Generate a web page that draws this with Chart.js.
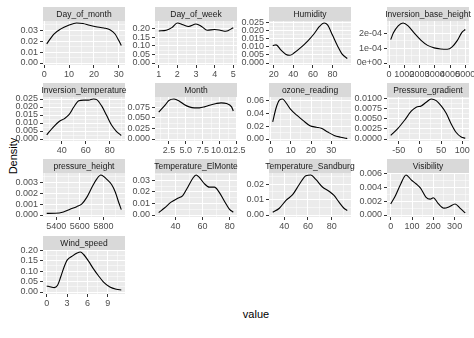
<!DOCTYPE html>
<html>
<head>
<meta charset="utf-8">
<script src="https://cdn.jsdelivr.net/npm/chart.js@4"></script>
<style>
  body { margin: 0; background: #fff; width: 474px; height: 338px; position: relative; overflow: hidden;
         font-family: "Liberation Sans", Arial, sans-serif; }
  canvas { position: absolute; }
  .axtitle { position: absolute; font-size: 11px; color: #000; white-space: nowrap; }
  #ylab { left: 13px; top: 156px; transform: translate(-50%, -50%) rotate(-90deg); }
  #xlab { left: 256px; top: 314px; transform: translate(-50%, -50%); }
</style>
</head>
<body>
<div class="axtitle" id="ylab">Density</div>
<div class="axtitle" id="xlab">value</div>
<script>
// ---- densities (x = value, y = density) ----
const dayOfMonthX = [1, 3.9, 6.5, 9.8, 13, 15.6, 18.2, 20.8, 24, 26.6, 28.5, 30, 31];
const dayOfMonthY = [0.0175, 0.0265, 0.031, 0.0345, 0.0366, 0.0362, 0.0345, 0.0332, 0.032, 0.0302, 0.0265, 0.0205, 0.016];

const dayOfWeekX = [1, 1.4, 1.7, 2, 2.3, 2.6, 3, 3.3, 3.6, 4, 4.3, 4.6, 5];
const dayOfWeekY = [0.186, 0.19, 0.205, 0.232, 0.222, 0.212, 0.226, 0.212, 0.19, 0.194, 0.19, 0.184, 0.205];

const humidityX = [19, 22.4, 27.5, 32.6, 36.6, 41, 47.8, 54.6, 61.4, 66.4, 71.5, 74.9, 80, 85, 90, 95];
const humidityY = [0.0107, 0.0112, 0.0079, 0.0053, 0.0048, 0.0063, 0.0096, 0.0135, 0.0182, 0.0224, 0.0247, 0.0235, 0.0171, 0.0107, 0.0053, 0.0028];

const invBaseX = [111, 280, 600, 920, 1250, 1670, 2100, 2530, 2960, 3390, 3820, 4140, 4460, 4780, 5000];
const invBaseY = [1.58e-4, 2.02e-4, 2.51e-4, 2.70e-4, 2.51e-4, 2.0e-4, 1.53e-4, 1.19e-4, 1.02e-4, 0.95e-4, 0.93e-4, 1.09e-4, 1.49e-4, 2.07e-4, 2.26e-4];

const invTempX = [27.6, 32.5, 37.9, 42, 46.1, 50.1, 54.2, 58.3, 62.3, 66.4, 69.1, 73.2, 77.3, 81.4, 85.4, 89.5];
const invTempY = [0.0026, 0.007, 0.0109, 0.0126, 0.0152, 0.02, 0.0239, 0.0243, 0.0243, 0.025, 0.0246, 0.0207, 0.0148, 0.0087, 0.0048, 0.0022];

const monthX = [1, 2, 2.5, 3.25, 4, 4.75, 5.5, 6.25, 7, 7.75, 8.5, 9.5, 10.2, 11, 11.75, 12];
const monthY = [0.0629, 0.081, 0.0905, 0.094, 0.0895, 0.081, 0.0755, 0.0732, 0.0732, 0.0755, 0.0795, 0.0835, 0.085, 0.0835, 0.0755, 0.066];

const ozoneX = [1, 2.7, 4.3, 5.9, 7.5, 9.9, 13.1, 16.3, 19.5, 22.7, 25.1, 28.3, 31.5, 34.7, 37.1, 38];
const ozoneY = [0.027, 0.049, 0.061, 0.0627, 0.0572, 0.0463, 0.037, 0.0283, 0.0207, 0.0185, 0.0168, 0.0109, 0.0056, 0.0028, 0.0012, 0.0009];

const presGradX = [-69, -52, -36.3, -20.6, -8.8, 3, 14.8, 26.6, 38.4, 50.2, 62, 73.8, 85.6, 97.4, 107];
const presGradY = [0.00087, 0.0026, 0.0046, 0.0068, 0.0078, 0.0081, 0.009, 0.0098, 0.0094, 0.0081, 0.0063, 0.0037, 0.0016, 0.0005, 0.0002];

const presHeightX = [5320, 5391, 5461, 5517, 5573, 5615, 5657, 5700, 5742, 5778, 5826, 5868, 5900, 5930, 5950];
const presHeightY = [0.00015, 0.00016, 0.00028, 0.00053, 0.00077, 0.001, 0.0016, 0.0025, 0.0033, 0.00368, 0.0033, 0.0028, 0.0021, 0.0011, 0.0005];

const elMonteX = [27.7, 31.9, 36.8, 41.7, 45.4, 49.1, 52.7, 55.2, 57.6, 61.3, 65, 68.7, 72.3, 76, 79.7, 82.6];
const elMonteY = [0.0021, 0.006, 0.0111, 0.0144, 0.0168, 0.024, 0.0315, 0.0345, 0.0324, 0.027, 0.024, 0.024, 0.0195, 0.012, 0.0051, 0.0024];

const sandburgX = [30.2, 35.8, 41.4, 47, 52.6, 58.2, 62.4, 66.6, 72.2, 77.8, 82, 86.2, 90.4, 93.2];
const sandburgY = [0.0018, 0.0044, 0.0095, 0.0132, 0.0198, 0.0255, 0.026, 0.0231, 0.0182, 0.0154, 0.0127, 0.0084, 0.0044, 0.0029];

const visibilityX = [0, 22, 47, 72, 96, 120, 140, 165, 185, 200, 222, 250, 275, 302, 325, 350];
const visibilityY = [0.0016, 0.0028, 0.0045, 0.0058, 0.0051, 0.0045, 0.0039, 0.0026, 0.0023, 0.0025, 0.0017, 0.001, 0.0012, 0.0016, 0.001, 0.0003];

const windX = [0, 0.63, 1.1, 1.6, 2.07, 2.55, 3.04, 3.76, 4.49, 4.97, 5.45, 6.17, 6.9, 7.63, 8.35, 9.32, 10.3, 11];
const windY = [0.029, 0.024, 0.021, 0.0325, 0.073, 0.119, 0.154, 0.172, 0.187, 0.192, 0.18, 0.148, 0.111, 0.078, 0.049, 0.024, 0.013, 0.0098];

// ---- facet names and tick labels ----
const facetNames = ['Day_of_month', 'Day_of_week', 'Humidity', 'Inversion_base_height',
  'Inversion_temperature', 'Month', 'ozone_reading', 'Pressure_gradient',
  'pressure_height', 'Temperature_ElMonte', 'Temperature_Sandburg', 'Visibility', 'Wind_speed'];

const xTickLabels = [
  ['0', '10', '20', '30'],
  ['1', '2', '3', '4', '5'],
  ['20', '40', '60', '80'],
  ['0', '1000', '2000', '3000', '4000', '5000'],
  ['40', '60', '80'],
  ['2.5', '5.0', '7.5', '10.0', '12.5'],
  ['0', '10', '20', '30'],
  ['-50', '0', '50', '100'],
  ['5400', '5600', '5800'],
  ['40', '60', '80'],
  ['40', '60', '80'],
  ['0', '100', '200', '300'],
  ['0', '3', '6', '9']
];
const yTickLabels = [
  ['0.00', '0.01', '0.02', '0.03'],
  ['0.00', '0.05', '0.10', '0.15', '0.20'],
  ['0.000', '0.005', '0.010', '0.015', '0.020', '0.025'],
  ['0e+00', '1e-04', '2e-04'],
  ['0.000', '0.005', '0.010', '0.015', '0.020', '0.025'],
  ['0.000', '0.025', '0.050', '0.075'],
  ['0.00', '0.02', '0.04', '0.06'],
  ['0.0000', '0.0025', '0.0050', '0.0075', '0.0100'],
  ['0.000', '0.001', '0.002', '0.003'],
  ['0.00', '0.01', '0.02', '0.03'],
  ['0.00', '0.01', '0.02'],
  ['0.000', '0.002', '0.004', '0.006'],
  ['0.00', '0.05', '0.10', '0.15', '0.20']
];

const seriesX = [dayOfMonthX, dayOfWeekX, humidityX, invBaseX, invTempX, monthX, ozoneX,
  presGradX, presHeightX, elMonteX, sandburgX, visibilityX, windX];
const seriesY = [dayOfMonthY, dayOfWeekY, humidityY, invBaseY, invTempY, monthY, ozoneY,
  presGradY, presHeightY, elMonteY, sandburgY, visibilityY, windY];

// ---- layout (facet grid) ----
const COLS = [43, 155, 269, 387];
const ROWS = [7, 83, 159, 236];
const PW = 82, PH = 44, STRIP = 14, YAX = 40, XAX = 17, PADR = 14;
const FONT = '"Liberation Sans", Arial, sans-serif';

// majors from labels, minors halfway between (and one step outside if still in range)
function makeTicks(labels, min, max) {
  const vals = labels.map(Number);
  const out = vals.map((v, i) => ({ value: v, lab: labels[i], major2: true }));
  const step = vals[1] - vals[0];
  for (let i = -1; i < vals.length; i++) {
    const m = (i < 0 ? vals[0] - step / 2 : vals[i] + step / 2);
    if (m > min && m < max) out.push({ value: m, lab: '', major2: false });
  }
  return out.sort((a, b) => a.value - b.value);
}

const panelBg = {
  id: 'panelBg',
  beforeDraw(chart, args, opts) {
    const { ctx, chartArea: a } = chart;
    ctx.save();
    ctx.fillStyle = '#EBEBEB';
    ctx.fillRect(a.left, a.top, a.right - a.left, a.bottom - a.top);
    ctx.fillStyle = '#D9D9D9';
    ctx.fillRect(a.left, a.top - STRIP, a.right - a.left, STRIP);
    ctx.fillStyle = '#1A1A1A';
    ctx.font = '8.5px ' + FONT;
    ctx.textAlign = 'center';
    ctx.textBaseline = 'middle';
    ctx.fillText(opts.text, (a.left + a.right) / 2, a.top - STRIP / 2 + 0.5);
    ctx.restore();
  }
};

function gridOpts() {
  return {
    color: '#FFFFFF',
    lineWidth: c => (c.tick && c.tick.major2 ? 1 : 0.5),
    drawTicks: true,
    tickLength: 3,
    tickWidth: 1,
    tickColor: c => (c.tick && c.tick.major2 ? '#333333' : 'rgba(0,0,0,0)')
  };
}

facetNames.forEach((name, i) => {
  const col = i % 4, row = Math.floor(i / 4);
  const xs = seriesX[i], ys = seriesY[i];

  const xLo = Math.min(...xs), xHi = Math.max(...xs);
  const xPad = (xHi - xLo) * 0.05;
  const yHi = Math.max(...ys);
  const xmin = xLo - xPad, xmax = xHi + xPad;
  const ymin = -yHi * 0.05, ymax = yHi * 1.05;

  const cv = document.createElement('canvas');
  cv.width = YAX + PW + PADR;
  cv.height = STRIP + PH + XAX;
  cv.style.left = (COLS[col] - YAX) + 'px';
  cv.style.top = ROWS[row] + 'px';
  document.body.appendChild(cv);

  new Chart(cv.getContext('2d'), {
    type: 'line',
    data: {
      datasets: [{
        data: xs.map((x, k) => ({ x: x, y: ys[k] })),
        borderColor: '#000000',
        borderWidth: 1.1,
        pointRadius: 0,
        fill: false,
        cubicInterpolationMode: 'monotone'
      }]
    },
    options: {
      responsive: false,
      animation: false,
      devicePixelRatio: 1,
      layout: { padding: { top: STRIP, right: PADR, left: 0, bottom: 0 } },
      plugins: { legend: { display: false }, tooltip: { enabled: false }, panelBg: { text: name } },
      scales: {
        x: {
          type: 'linear', min: xmin, max: xmax,
          afterBuildTicks: s => { s.ticks = makeTicks(xTickLabels[i], xmin, xmax); },
          afterFit: s => { s.height = XAX; s.paddingLeft = 0; s.paddingRight = 0; },
          ticks: {
            autoSkip: false, maxRotation: 0, minRotation: 0, padding: 1,
            color: '#4D4D4D', font: { size: 9, family: FONT },
            callback: (v, idx, t) => t[idx].lab
          },
          grid: gridOpts(),
          border: { display: false }
        },
        y: {
          type: 'linear', min: ymin, max: ymax,
          afterBuildTicks: s => { s.ticks = makeTicks(yTickLabels[i], ymin, ymax); },
          afterFit: s => { s.width = YAX; s.paddingTop = 0; s.paddingBottom = 0; },
          ticks: {
            autoSkip: false, padding: 2,
            color: '#4D4D4D', font: { size: 9, family: FONT },
            callback: (v, idx, t) => t[idx].lab
          },
          grid: gridOpts(),
          border: { display: false }
        }
      }
    },
    plugins: [panelBg]
  });
});
</script>
</body>
</html>
